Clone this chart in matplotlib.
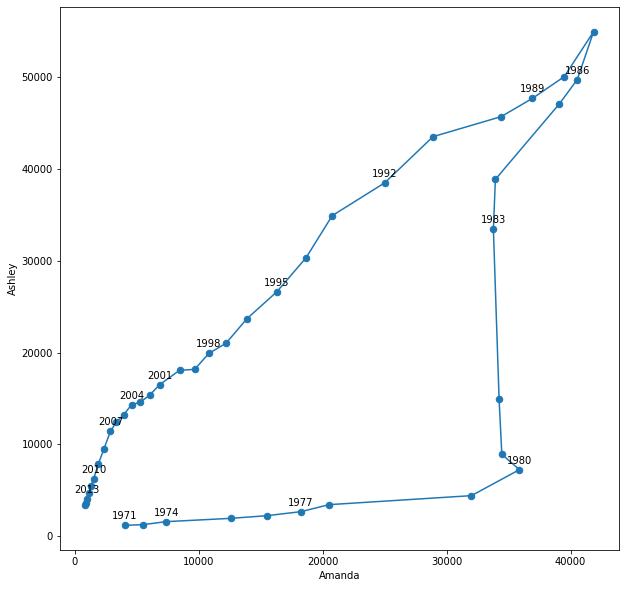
import matplotlib
matplotlib.use('Agg')
import matplotlib.pyplot as plt

# 年份（1973 在图中没有点）
years = [1971, 1972, 1974, 1975, 1976, 1977, 1978, 1979, 1980,
         1981, 1982, 1983, 1984, 1985, 1986, 1987, 1988, 1989, 1990,
         1991, 1992, 1993, 1994, 1995, 1996, 1997, 1998, 1999, 2000,
         2001, 2002, 2003, 2004, 2005, 2006, 2007, 2008, 2009, 2010,
         2011, 2012, 2013, 2014, 2015]

amanda = [4050, 5500, 7390, 12610, 15520, 18260, 20520, 32000, 35870,
          34450, 34230, 33770, 33930, 39100, 40530, 41850, 39480, 36920, 34390,
          28900, 25020, 20770, 18670, 16320, 13900, 12200, 10830, 9680, 8460,
          6850, 6040, 5260, 4590, 3970, 3340, 2890, 2350, 1900, 1540,
          1330, 1140, 1010, 930, 870]

ashley = [1200, 1270, 1600, 1960, 2250, 2690, 3450, 4430, 7260,
          8930, 14900, 33420, 38860, 47100, 49720, 54940, 50040, 47680, 45690,
          43510, 38500, 34910, 30340, 26640, 23700, 21010, 19920, 18180, 18070,
          16510, 15350, 14590, 14340, 13250, 12410, 11430, 9470, 7840, 6280,
          5480, 4760, 4030, 3590, 3370]

plt.rcParams['font.size'] = 10

fig = plt.figure(figsize=(624 / 72, 589 / 72), dpi=72)
ax = fig.add_axes([60 / 624, 39 / 589, 559 / 624, 543 / 589])

ax.plot(amanda, ashley, marker='o', markersize=6.5)

# 每三年标一次年份
for yr, a, b in zip(years, amanda, ashley):
    if yr % 3 == 0:
        ax.annotate(str(yr), (a, b), xytext=(0, 4), textcoords='offset points',
                    ha='center', va='bottom')

ax.set_xlabel('Amanda')
ax.set_ylabel('Ashley')

fig.savefig('out.png', dpi=72)
